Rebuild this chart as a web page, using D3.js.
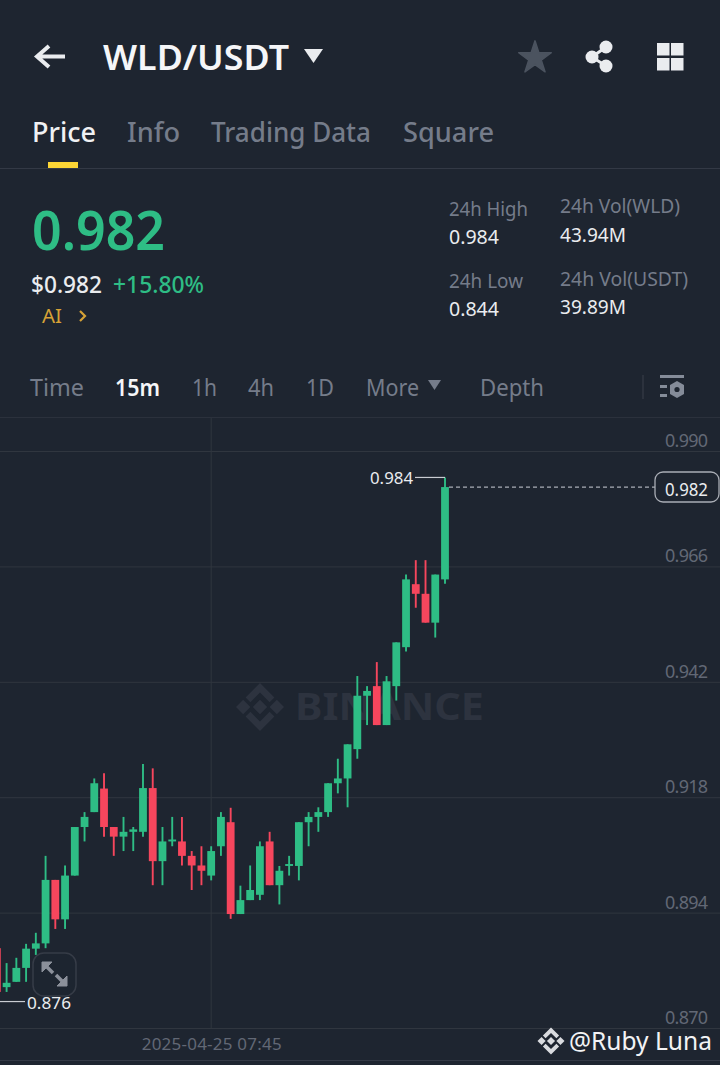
<!DOCTYPE html>
<html><head><meta charset="utf-8">
<script src="https://cdnjs.cloudflare.com/ajax/libs/d3/7.8.5/d3.min.js"></script>
<style>html,body{margin:0;padding:0;background:#1e2530}svg{display:block}</style>
</head><body><svg id="c" width="720" height="1065"></svg>
<script>
const candleIndex=[-1,0,1,2,3,4,5,6,7,8,9,10,11,12,13,14,15,16,17,18,19,20,21,22,23,24,25,26,27,28,29,30,31,32,33,34,35,36,37,38,39,40,41,42,43,44,45];
const opens =[.8866,.8785,.8796,.8825,.8865,.8876,.9008,.8926,.9017,.9118,.9149,.9198,.9118,.9098,.9108,.9108,.9199,.9047,.9088,.9088,.9058,.9038,.9017,.9078,.9128,.8937,.8966,.8977,.9088,.8997,.9037,.9037,.9128,.9139,.9149,.9209,.9219,.9280,.9391,.9411,.9330,.9411,.9492,.9623,.9603,.9543,.9633];
const highs =[.8866,.8835,.8846,.8875,.8898,.9058,.9008,.9038,.9118,.9149,.9219,.9230,.9118,.9139,.9118,.9249,.9240,.9118,.9139,.9139,.9068,.9078,.9078,.9149,.9158,.8996,.9038,.9088,.9108,.9037,.9058,.9128,.9149,.9159,.9209,.9260,.9290,.9432,.9411,.9461,.9432,.9502,.9643,.9673,.9673,.9643,.9845];
const lows  =[.8775,.8775,.8796,.8796,.8852,.8866,.8906,.8906,.9017,.9088,.9149,.9098,.9058,.9068,.9068,.9098,.8997,.8997,.9078,.9038,.8987,.8997,.9007,.9058,.8927,.8937,.8966,.8966,.8997,.8957,.9017,.9007,.9078,.9108,.9139,.9188,.9159,.9260,.9330,.9330,.9330,.9381,.9483,.9574,.9543,.9512,.9624];
const closes=[.8775,.8794,.8825,.8865,.8876,.9008,.8926,.9017,.9118,.9139,.9209,.9118,.9098,.9108,.9113,.9199,.9047,.9088,.9092,.9058,.9038,.9027,.9068,.9139,.8937,.8966,.8987,.9078,.8997,.9027,.9041,.9128,.9139,.9149,.9209,.9219,.9290,.9391,.9401,.9330,.9421,.9502,.9633,.9603,.9543,.9643,.9825];
const priceTicks=[0.990,0.966,0.942,0.918,0.894,0.870];
const timeTickIndex=[21];
const timeTickLabels=["2025-04-25 07:45"];
const lastPrice=0.9825, visibleHigh=0.9845, visibleLow=0.8755;
const highLabel="0.984", lowLabel="0.876", lastLabel="0.982";

const BG="#1e2530",GREEN="#2ebd85",RED="#f6465d",GRAY="#757c8a",AXIS="#626875",WHITE="#eaecef",GRID="#30363f";
const FONT="'Noto Sans',Roboto,sans-serif";
const svg=d3.select("#c");
svg.append("rect").attr("width",720).attr("height",1065).attr("fill",BG);

const x=d3.scaleLinear().domain([0,45]).range([6.6,445]);
const y=d3.scaleLinear().domain([0.870,0.990]).range([1028,451]);

function T(s,xp,yp,size,fill,w,len,weight,anchor){
  const t=svg.append("text").attr("x",xp).attr("y",yp).attr("font-size",size).attr("fill",fill)
   .attr("font-family",FONT).attr("font-weight",weight||400).attr("text-anchor",anchor||"start").text(s);
  if(len){t.attr("textLength",len).attr("lengthAdjust","spacingAndGlyphs");}
  return t;
}
function logo(cx,cy,s,fill,parent){
  const g=(parent||svg).append("g").attr("transform",`translate(${cx},${cy}) scale(${s})`).attr("fill",fill);
  const d=["M0 -3 L3 0 L0 3 L-3 0Z","M-7 -3 L-4 0 L-7 3 L-10 0Z","M7 -3 L10 0 L7 3 L4 0Z",
   "M0 -10 L6 -4 L4 -2 L0 -6 L-4 -2 L-6 -4Z","M0 10 L6 4 L4 2 L0 6 L-4 2 L-6 4Z"];
  d.forEach(p=>g.append("path").attr("d",p));
}

// header
svg.append("path").attr("d","M65 56.500H38M49 46L37 56.500L49 67").attr("fill","none").attr("stroke",WHITE).attr("stroke-width",4);
T("WLD/USDT",103,70,35,"#f5f6f8",186,186,600);
svg.append("path").attr("d","M304 49H323L313.5 63Z").attr("fill",WHITE);
svg.append("path").attr("d",d3.symbol(d3.symbolStar,330)()).attr("transform","translate(535,58)").attr("fill","#4b535f").attr("stroke","#4b535f").attr("stroke-width",1.5).attr("stroke-linejoin","round");
svg.append("g").attr("fill",WHITE).call(g=>{
  [[606,47,6.5],[592,57,6.5],[606,66,6.5]].forEach(c=>g.append("circle").attr("cx",c[0]).attr("cy",c[1]).attr("r",c[2]));
  g.append("path").attr("d","M606 47L592 57L606 66").attr("fill","none").attr("stroke",WHITE).attr("stroke-width",3);
});
[[657,43],[671,43],[657,58],[671,58]].forEach(p=>svg.append("rect").attr("x",p[0]).attr("y",p[1]).attr("width",12.5).attr("height",12.5).attr("fill",WHITE));
T("Price",32,142,27,"#f0f1f3",64,64,500);
T("Info",127,142,27,GRAY,53,53,500);
T("Trading Data",211,142,27,GRAY,160,160,500);
T("Square",403,142,27,GRAY,91,91,500);
svg.append("rect").attr("x",48).attr("y",162).attr("width",30).attr("height",6).attr("fill","#fcd535");
svg.append("rect").attr("x",0).attr("y",168).attr("width",720).attr("height",1).attr("fill","#333945");

// price block
T("0.982",32,250,54,GREEN,133,133,600);
T("$0.982",31,293,23,WHITE,71,71,500);
T("+15.80%",113,293,23,GREEN,91,91,500);
T("AI",42,323,19,"#d6a236",20,20);
svg.append("path").attr("d","M80 311L85 316L80 321").attr("fill","none").attr("stroke","#d6a236").attr("stroke-width",2.2);
T("24h High",449,216,20,GRAY,79,79);
T("0.984",449,244,19,WHITE,50,50);
T("24h Vol(WLD)",560,213,20,GRAY,120,120);
T("43.94M",560,242,19,WHITE,66,66);
T("24h Low",449,288,20,GRAY,74,74);
T("0.844",449,316,19,WHITE,50,50);
T("24h Vol(USDT)",560,286,20,GRAY,128,128);
T("39.89M",560,314,19,WHITE,66,66);

// toolbar
T("Time",30,396,23,GRAY,54,54);
T("15m",115,396,23,"#f5f6f8",45,45,600);
T("1h",192,396,23,GRAY,25,25);
T("4h",248,396,23,GRAY,26,26);
T("1D",306,396,23,GRAY,28,28);
T("More",366,396,23,GRAY,53,53);
svg.append("path").attr("d","M428 380H441L434.5 390Z").attr("fill",GRAY);
T("Depth",480,396,23,GRAY,64,64);
svg.append("rect").attr("x",642.5).attr("y",375).attr("width",1).attr("height",24).attr("fill","#3a404b");
svg.append("g").attr("fill","#858c99").call(g=>{
  g.append("rect").attr("x",660).attr("y",375).attr("width",24).attr("height",3);
  g.append("rect").attr("x",660).attr("y",385).attr("width",7).attr("height",3);
  g.append("rect").attr("x",660).attr("y",394).attr("width",7).attr("height",3);
  g.append("path").attr("d","M677 381L684 385V394L677 398L670 394V385Z");
  g.append("circle").attr("cx",677).attr("cy",389.5).attr("r",2.6).attr("fill",BG);
});
svg.append("rect").attr("x",0).attr("y",417).attr("width",720).attr("height",1).attr("fill","#2b313c");

// watermark
logo(260,707,2.4,"#2d333f");
T("BINANCE",295,720,37,"#2d333f",189,189,700);

// grid + price axis
const yAxis=d3.axisLeft(y).tickValues(priceTicks).tickSize(720).tickPadding(-708).tickFormat(d3.format(".3f"));
const ag=svg.append("g").attr("transform","translate(720,0)").call(yAxis);
ag.select(".domain").remove();
ag.selectAll("line").attr("stroke",GRID);
ag.selectAll("text").attr("dy",-4.5).attr("font-size",18).attr("fill",AXIS).attr("font-family",FONT).attr("textLength",43);

// time axis
const xAxis=d3.axisBottom(x).tickValues(timeTickIndex).tickSize(0).tickPadding(0).tickFormat((d,i)=>timeTickLabels[i]);
const xg=svg.append("g").attr("transform","translate(0,1028)").call(xAxis);
xg.select(".domain").remove();
xg.selectAll("text").attr("dy",22).attr("font-size",17).attr("fill",AXIS).attr("font-family",FONT).attr("textLength",140);
svg.selectAll("line.vgrid").data(timeTickIndex).join("line").attr("class","vgrid")
  .attr("x1",d=>x(d)).attr("x2",d=>x(d)).attr("y1",418).attr("y2",1028).attr("stroke",GRID);
svg.append("rect").attr("x",0).attr("y",1060).attr("width",720).attr("height",1).attr("fill","#333945");

// candles
const rows=candleIndex.map((d,i)=>({i:d,o:opens[i],h:highs[i],l:lows[i],c:closes[i]}));
const col=d=>d.c>=d.o?GREEN:RED;
const g=svg.append("g");
g.selectAll("line").data(rows).join("line")
 .attr("x1",d=>x(d.i)).attr("x2",d=>x(d.i)).attr("y1",d=>y(d.h)).attr("y2",d=>y(d.l))
 .attr("stroke",col).attr("stroke-width",1.9);
g.selectAll("rect").data(rows).join("rect")
 .attr("x",d=>x(d.i)-3.9).attr("width",7.8)
 .attr("y",d=>y(Math.max(d.o,d.c))).attr("height",d=>Math.max(1.8,Math.abs(y(d.o)-y(d.c))))
 .attr("fill",col);

// annotations
const LEAD="#c9ccd2";
svg.append("path").attr("d",`M415 ${y(visibleHigh)}H${x(45)}`).attr("stroke",LEAD).attr("stroke-width",1.2).attr("fill","none");
T(highLabel,370,484,17,WHITE,43,43);
svg.append("path").attr("d",`M0 ${y(visibleLow)}H25`).attr("stroke",LEAD).attr("stroke-width",1.2);
T(lowLabel,27,1009,17,WHITE,44,44);
svg.append("line").attr("x1",449).attr("x2",655).attr("y1",y(lastPrice)).attr("y2",y(lastPrice))
  .attr("stroke","#a9adb5").attr("stroke-width",1.2).attr("stroke-dasharray","4 3");
svg.append("rect").attr("x",655).attr("y",472).attr("width",64).attr("height",30).attr("rx",8)
  .attr("fill",BG).attr("stroke","#a9adb5").attr("stroke-width",1.3);
T(lastLabel,665,496,18,WHITE,43,43);

// expand button
svg.append("rect").attr("x",33).attr("y",953).attr("width",43).attr("height",43).attr("rx",11)
  .attr("fill","#1e2530").attr("fill-opacity",.75).attr("stroke","#363c47").attr("stroke-width",1.5);
svg.append("g").attr("fill","#8b909a").attr("stroke","#8b909a").call(e=>{
  e.append("path").attr("d","M44 964L53 973").attr("fill","none").attr("stroke-width",3.6);
  e.append("path").attr("d","M56 975L65 984").attr("fill","none").attr("stroke-width",3.6);
  e.append("path").attr("d","M42 962H52L42 972Z").attr("stroke-width",1);
  e.append("path").attr("d","M67 986H57L67 976Z").attr("stroke-width",1);
});

// footer credit
logo(551,1041,1.35,"#d9dbdf");
T("@Ruby Luna",569,1050,25,"#f2f3f5",143,143,400);
</script></body></html>
